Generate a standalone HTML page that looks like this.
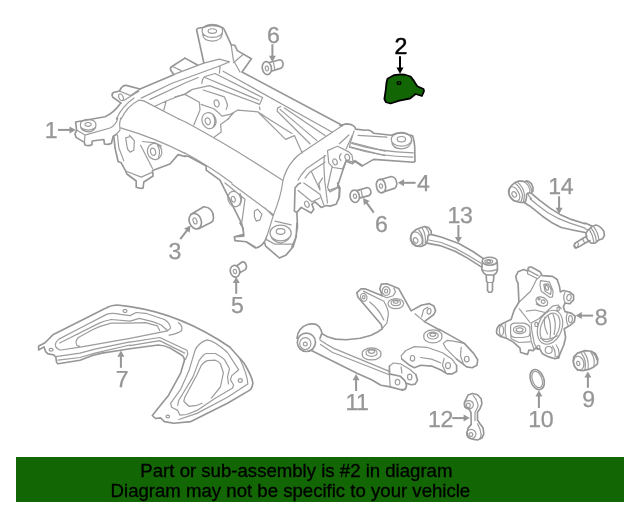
<!DOCTYPE html>
<html lang="en">
<head>
<meta charset="utf-8">
<title>Rear suspension parts diagram</title>
<style>
html,body{margin:0;padding:0;background:#fff;}
body{width:640px;height:512px;overflow:hidden;position:relative;font-family:"Liberation Sans",sans-serif;}
svg{position:absolute;left:0;top:0;display:block;will-change:transform;}
.ln path{fill:none;stroke:#9c9c9c;stroke-width:1.2;stroke-linejoin:round;stroke-linecap:round;}
.ln path.k{stroke:#969696;stroke-width:1.65;}
.lb text{font-family:"Liberation Sans",sans-serif;font-size:23.1px;fill:#969696;letter-spacing:-0.4px;text-rendering:geometricPrecision;stroke:#969696;stroke-width:0.3px;}
.lb text.b{fill:#000;stroke:#000;stroke-width:0.5px;}
.ar line{stroke:#969696;stroke-width:2;}
.ar polygon{fill:#969696;stroke:none;}
.ar line.b{stroke:#000;stroke-width:2;}
.ar polygon.b{fill:#000;}
.banner{position:absolute;left:16px;top:457px;width:608px;height:45px;background:#126604;overflow:hidden;will-change:transform;}
.banner div{position:absolute;width:608px;text-align:center;font-size:18.6px;line-height:20px;color:#000;white-space:nowrap;-webkit-text-stroke:0.3px #000;}
</style>
</head>
<body>
<svg width="640" height="512" viewBox="0 0 640 512" role="img" aria-label="Rear suspension exploded parts diagram">
<g class="ln">
<g id="subframe-top">
<path d="M231.1,44.7L233.4,60.3L240,72M202.2,30.9A10.2,5.9,0,1,0,222.5,30.9A10.2,5.9,0,1,0,202.2,30.9ZM208.1,31.1A4.2,2.3,0,1,0,216.6,31.1A4.2,2.3,0,1,0,208.1,31.1ZM202.5,33.8Q203,40.8 212.3,41.2Q221.7,40.8 222.5,33M242.8,54.8L233.4,62.7M174.1,74.4L203.8,63.1L219.4,59.2L229.5,61.9L220.2,65.8L219.4,73.1M223.1,71.2L331.9,131.9M141.2,98.1L172,83.3L220.2,65.8M150,99.4L185,83L198.3,77.5M205,77.5L258.8,100.2M201.2,104.4L213.8,108.8Q218,112 221.9,116.2L230,114.4L237.5,110.2L258.1,111.9L268.8,119L291.9,133.5M233.8,112.5L228.1,119M215,73.5L262.5,97.5L259.8,104.4L209.4,85.6M259.4,106.9L260,109.6M215,73.5L205,76.5Q201.9,78.8 201.9,83.5M175,96.9L185,94.4Q188.8,91.2 192.5,89.4L209.4,85.6M185,94.4L199.4,102.2L200,110L193.8,125M203.1,90L224.4,96.9Q227.2,102.5 227.5,105.6L226.2,109.4M214.3,104A2.4,3.2,-15,1,0,218.9,102.8A2.4,3.2,-15,1,0,214.3,104ZM202.5,123A6.9,8.1,-20,1,0,215.5,118.3A6.9,8.1,-20,1,0,202.5,123ZM205.4,122.1A2.5,3.4,-20,1,0,210.1,120.4A2.5,3.4,-20,1,0,205.4,122.1ZM212.5,114.4Q216.9,120 213.1,127.5M280.6,106.5L277.5,108.1L277.2,111.2L310,143.8M280,109.4L316.9,140.6M284.4,108.1L325,135.6M258.5,112.5L285.6,139.4L294.4,135.6L302.2,153.1M342.5,125.6L301.2,153.1Q296.9,156.2 294.4,159M391.2,139.5A10.2,6.6,0,1,0,411.6,139.5A10.2,6.6,0,1,0,391.2,139.5ZM397.2,139.2A4.2,2.7,0,1,0,405.6,139.2A4.2,2.7,0,1,0,397.2,139.2ZM391.6,141.1Q392.3,148.9 401.7,148.9Q410.3,148.1 411.9,140.3M358,135.3L386.9,137.2M351.7,143.4Q379.1,152 413.4,152.8M349.4,147.3Q379.1,156.7 412.7,157.2M354.1,130.9L350.2,143.4L349.4,147.3"/>
<path class="k" d="M203.8,62.7L196.7,30.3Q196.4,28.8 198.3,28.3L203.8,27.2Q211.6,23.6 221.7,27.2Q223.8,27.8 224.4,29.8L231.1,44.7M231.1,44.7L234.7,45.2L237.3,50.6L251.4,58.8L242,72M241.9,71.9L342.5,125.6M185,58.1L197.5,65M340,125.5L346.2,123.9Q351.7,123.9 354.8,127L355.6,129.1L365,130.2Q370.5,129.1 373.6,133.3L391.6,135.3Q400.9,130.2 408.8,134.8L412.7,135.9Q414.2,140.3 414.7,146.6L415,161.4L413.4,162.2L373.6,159.4L361.9,166.1L354.8,161.4L352.5,163.8L347,161.4"/>
</g>
<g id="subframe-left">
<path d="M119.4,91L130.6,95.6L140,89M123.8,100.6L138.8,91.2M119.1,98.1A2.1,3.1,-25,1,0,122.9,96.4A2.1,3.1,-25,1,0,119.1,98.1ZM172.5,66.5L181.2,70.6M116.2,119Q122.5,106.2 134,98.1M121.2,119Q126.9,106.2 138.8,100.2L143.8,100.9L178.8,119M155,106.2L166.2,101L163.8,110M166.2,101L185,93.8L190,91.2M76.6,130.1L85,135.1L84.4,142.4M85,135.1L110,128Q116.2,125.1 117.8,118.2M116.2,134.5L120,130.1Q118.8,124.5 120.6,118.2M80.4,124.8A7.8,4.8,0,1,0,95.9,124.8A7.8,4.8,0,1,0,80.4,124.8ZM85,124.4A3.1,1.9,0,1,0,91.2,124.4A3.1,1.9,0,1,0,85,124.4ZM80.4,126.2Q81.2,131.8 88.8,131.8Q95.6,131.1 96,125.5"/>
<path class="k" d="M120,103.9L121.2,103.1L112.8,97.2Q111,94 113.5,92.5L119.4,91L121.5,87.5Q123.8,85 126.2,85.4L140,89L173.8,74.8L170.6,70Q170,67.5 171.9,66.5L185,58.1M75.6,122L105,116.8Q113.8,112.6 120,103.9M75.6,122L76.6,130.1L75,133.9L76,137.4L84.4,142.4L85,145Q88.8,146.5 91.9,144.8L92.2,141L103.8,139.5L104.5,144Q108.1,145.2 111.5,143.2L113.1,136.4L116.2,134.5"/>
</g>
<g id="subframe-frontleft">
<path d="M120.6,127.8Q155,137.8 185,153.4M117.5,135.2L118.8,147.8L123.8,160.9M126.9,171.5L141.2,177.1L152.5,172.1M125.6,137.8L130.6,136.5L134.4,140.9L133.8,150.2L130,152.1L127.5,149ZM129.4,135.2L131.9,137.8M140.6,145.2L152.5,168.4M142.5,141.5L155,142.8L161.2,145.9M147.7,153.3A7.1,8.1,-15,1,0,161.5,149.7A7.1,8.1,-15,1,0,147.7,153.3ZM150.7,152.4A2.5,3.4,-15,1,0,155.5,151.1A2.5,3.4,-15,1,0,150.7,152.4ZM157.5,145.5Q161,150.9 158.5,157.1"/>
<path class="k" d="M113.8,135.9L115,147.8L118.1,161.5L121.2,162.8L125.6,170.9L126.9,174L136.2,181L136.2,187.2L141.2,188.5L143.1,187.9L143.8,182L153.1,176L152.5,170.5L170,164L178.1,154.6L185,156.5"/>
</g>
<g id="subframe-mid">
<path d="M228.1,119L220.6,124.6L221.2,132.1L214.4,137.1M185,153Q210,166.5 231.9,183M225,183L245,199.2L241.9,221.8M231.9,184L273.8,214.9M228.5,201.1A6.2,7.8,-20,1,0,240.2,196.9A6.2,7.8,-20,1,0,228.5,201.1ZM231.5,199.9A1.9,2.5,-20,1,0,235,198.6A1.9,2.5,-20,1,0,231.5,199.9ZM240,193.6Q243.1,199.2 240,204.9M254.4,211.1L257.5,209.2L261.9,214.2L260,219.9L256.2,221.1L254.4,216.8ZM282.5,183Q281.2,195.5 273.1,216.1L265.6,240.5M265,208L273.1,216.1M298.1,190.5L311.9,201.8L320,198M303.8,183L320,194.2L323.8,204.9M318.8,183L320,189.2M325,183L327.5,203M328.1,190.5L337.5,187.4M304.9,205A2.1,3.1,-20,1,0,308.9,203.5A2.1,3.1,-20,1,0,304.9,205ZM270,233A10.6,7.8,0,1,0,291.2,233A10.6,7.8,0,1,0,270,233ZM276.2,231.5A4.4,2.8,0,1,0,285,231.5A4.4,2.8,0,1,0,276.2,231.5ZM270.6,235.5Q272.5,241.8 281.2,243Q290,240.5 291.2,234.2M275,221.1L291.2,224.9M266.2,239.2L275,244.2L291.9,244.2M266.9,235.5L264.4,241.8M266.9,239.9L275,244.2L292.5,244.2M298.1,180L301.2,175L306.2,168.8L325.6,155.6M305,178.1L310,171.9L325,162.2M327.5,150.6L337.5,146.2L348.8,151.9L351.9,155L353.1,161.9L346.2,160.6L342.5,168.8L333.1,167.5L328.8,163.1ZM333,162.6A2.1,3,-20,1,0,337,161.1A2.1,3,-20,1,0,333,162.6ZM345.1,158A2.2,3,-20,1,0,349.4,156.5A2.2,3,-20,1,0,345.1,158ZM341.2,153.8Q337.8,156.9 341,160.6M331.9,167.5L327.5,187.5L330,191.9L338.1,187.5M351.9,142.5L385,151.2M350,146.9L385,155.6M352.5,135L346.2,148.8M348.8,135L339.4,143.8M324.4,155.6L323.8,163.8L324.8,183M311.2,171.2L317.5,184.4L320,190M322.5,178.1L318.8,183.8"/>
<path class="k" d="M185,155.9L188.8,156.5L206.2,165.9L206.2,170.2L220,180.2M220,180.2L241.9,224.2L243.8,234.2L234.4,236.8L235,240.8L246.2,241.8L255,247M300.6,183L298.1,184.2L295,188L294.4,211.1L296.9,212.4L301.2,207.4L311.2,213L313.8,209.2L311.9,204.2L315,201.8L321.2,207.4L326.2,205.5L330,206.1L336.2,204.2L339.4,196.8L340,188L337.5,183M296.9,212.4L297.5,226.8L295.6,238L291.9,247M240,223L243.1,228L243.8,236.1L234.4,236.8L235,240.5L246.2,241.8L255.6,248Q260.6,247.4 264.4,241.8L265.6,246.1L279.4,258L286.2,254.9L293.1,246.8L296.2,236.8L296.9,223M353.1,161.9L355,160.6L362.5,165.6M346.2,160.6L342.5,171.2L337.5,186.2L339.4,189.4L338.8,199"/>
</g>
<g id="small-parts">
<path d="M193.4,221.5A1.8,2.4,-20,1,0,196.6,220.3A1.8,2.4,-20,1,0,193.4,221.5ZM233.4,271.9A1.6,2.1,-15,1,0,236.6,271.1A1.6,2.1,-15,1,0,233.4,271.9ZM379.5,186.3A1.5,2.2,-10,1,0,382.5,185.7A1.5,2.2,-10,1,0,379.5,186.3ZM353.4,196.5A1.6,2.2,-10,1,0,356.6,196A1.6,2.2,-10,1,0,353.4,196.5ZM361.2,190.6L362.5,196.9M265.3,68.7A1.6,2.4,-10,1,0,268.5,68.1A1.6,2.4,-10,1,0,265.3,68.7ZM273.5,62.5L274.8,69.4"/>
<path class="k" d="M189.7,223.1A5.9,7.8,-20,1,0,200.8,219.1A5.9,7.8,-20,1,0,189.7,223.1ZM190.6,214.5L203.8,206.8Q213.1,207.4 213.5,217.4Q213.5,220.5 211.9,222L198.1,229M230.5,272.4A4.6,5.9,-15,1,0,239.5,270.1A4.6,5.9,-15,1,0,230.5,272.4ZM237.5,265.2L242.1,262Q245.6,261.5 246.5,266.5Q246.5,268.6 245.2,269.6L240.2,272.6M376.6,186.8A4.5,6.2,-10,1,0,385.4,185.2A4.5,6.2,-10,1,0,376.6,186.8ZM380,179.8L391.2,176.5Q396.2,176.9 396.9,183.8Q396.5,186.9 395,188.1L382.5,192.2M350.2,197.1A4.6,6.2,-10,1,0,359.3,195.4A4.6,6.2,-10,1,0,350.2,197.1ZM356.9,190.6L367.5,187.5Q370.6,188.1 371,192.5Q370.6,195 368.8,195.6L359.4,198.1M262.4,68.9A4.5,6.5,-10,1,0,271.3,67.3A4.5,6.5,-10,1,0,262.4,68.9ZM269.4,62.5L280,59.8Q283.1,60.6 283.1,64.4Q283.1,66.9 281.2,68.1L271.2,71.2"/>
</g>
<g id="subframe-arch">
<path d="M178.8,119L185,121.8Q232,147 282.5,180.2M294.4,159Q285,169 282.5,183"/>
</g>
<g id="shield">
<path d="M55.8,356.6L80,353.1L95,349.1L130,341.9M130,315.6L120.6,314.4Q111.2,312.5 106.6,314.4L76.9,329.7L58.9,339.1Q54.2,343 55.8,346.9Q58.1,350 61.2,350L81.6,346.9L130,338.3M130,321.1L111.2,319.5Q103.4,321.1 98.8,323.4L59.7,343M130,323.1L111.2,323.1Q100.3,325.8 92.5,329.7L78.4,337.5Q74.5,341.4 76.9,345.3L80,346.6M58.1,360.2L80,357.5L95,353.1L130,345M49.1,349.7A2,1.4,0,1,0,53.1,349.7A2,1.4,0,1,0,49.1,349.7ZM123.1,310.9A1.9,1.6,0,1,0,126.9,310.9A1.9,1.6,0,1,0,123.1,310.9ZM130,315.6L136.2,312.5L145.6,313.3L164.4,319.5Q169.8,322.7 170.6,328.1L167.5,330.9L130,338.3M130,321.1L139.4,318.4L153.4,321.9L161.2,325L167.5,330.5M130,323.1L145.6,322.7L157.3,325.8L159.7,330.5M178.4,322.7Q183.1,325.8 181.6,330.5Q178.4,333.6 169.1,335.2M130,342.2L159.7,337.5L187,350.3L187.8,353.9L185.5,359.4M130,345.6L159.7,340.6L184.7,353.1M239.7,358.6Q247.4,374.8 247.8,384L227.5,397.2L197,413.4L178.8,419.5M188.9,370.8L195,350.5Q198,342.8 207.2,339.9Q215.3,341.3 227.5,352.5L238.7,369.8L231.6,375.9L230.5,379.9L233.6,385L232.6,388L215.3,398.2L197,410.4L186.9,414.5L179.8,415.1L177.7,410.4L171.6,407.3L170.6,403.3L180.8,389.1ZM177.7,405.3L178.8,400.2L193,376.9L199.1,360.6Q203.1,354.5 206.2,353.5L215.3,353.5Q221.4,356.6 224.5,359.6L229.5,368.8L227.5,376.9L228.5,384M202.1,403.3L197,405.3L188.9,406.3L183.8,401.3L184.8,397.2L197,374.8L201.1,365.7Q204.1,361.6 207.2,360.6L215.3,360.2Q219.4,361.6 220.4,363.7L223.4,372.8L220.4,387L211.3,398.2M238.3,380.5A2,1.8,0,1,0,242.3,380.5A2,1.8,0,1,0,238.3,380.5ZM166,416.5A1.8,1.4,0,1,0,169.6,416.5A1.8,1.4,0,1,0,166,416.5Z"/>
<path class="k" d="M130,348.8L117.5,350.8L101.9,353.1L92.5,355.5L80,360.2L58.1,363.8L56.6,362.5L55.8,357L53.4,354.7L48,353.9L45.6,351.6L44.1,346.9L38.6,350L38.6,346.1L44.8,343L53.4,334.4L105,308.6Q111.2,305 117.5,305L130,306.6M130,306.6Q181.6,314.1 230,347.2M130,348.8L158.1,345Q164.4,345 170.6,348.4L182.3,355.5Q185.5,358.6 183.9,362.5M229.9,347.2L243.8,362.7Q251.9,375.9 252.9,383Q251.9,389.1 249.8,390.1L227.5,403.3L190.9,421.6L173.7,423.2L164.5,421.6L160.5,417.9L155.4,418.5L152.3,415.5L160.5,405.3L168.6,395.2L180.8,372.8L184,361.6"/>
</g>
<g id="arm11">
<path d="M299.7,343.6A5.6,5.9,0,1,0,310.9,343.6A5.6,5.9,0,1,0,299.7,343.6ZM303.4,344.1A1.9,1.9,0,1,0,307.2,344.1A1.9,1.9,0,1,0,303.4,344.1ZM319.7,339.8Q327.5,345.3 333.8,348.4L390,371.6M320.5,344.5L332.2,352.3L352.5,360.2L390,375M362.2,353.9A9.4,5.5,0,1,0,380.9,353.9A9.4,5.5,0,1,0,362.2,353.9ZM366.1,352.8A5.5,3.1,0,1,0,377,352.8A5.5,3.1,0,1,0,366.1,352.8ZM368.4,351.6A3.1,1.7,0,1,0,374.7,351.6A3.1,1.7,0,1,0,368.4,351.6ZM363.4,291.1L383.8,301.2Q388.4,309.1 388.4,313.8L386.9,323.1L382.2,328.6M369.7,302Q379.1,309.1 383.8,320M360.7,298.2A3.1,3.9,-15,1,0,366.8,296.5A3.1,3.9,-15,1,0,360.7,298.2ZM362.5,297.3A1.2,1.6,0,1,0,365,297.3A1.2,1.6,0,1,0,362.5,297.3ZM382.2,291.1A3.9,4.4,0,1,0,390,291.1A3.9,4.4,0,1,0,382.2,291.1ZM384.5,291.1A1.6,1.9,0,1,0,387.7,291.1A1.6,1.9,0,1,0,384.5,291.1ZM382.2,295.8L386.9,297.8L393.1,295.8L395.5,291.9L393.9,288M388,303.6A7.8,5,0,1,0,403.6,303.6A7.8,5,0,1,0,388,303.6ZM391.1,302.8A4.7,2.8,0,1,0,400.5,302.8A4.7,2.8,0,1,0,391.1,302.8ZM393.4,302A2.3,1.2,0,1,0,398.1,302A2.3,1.2,0,1,0,393.4,302ZM427.2,310.9A1.9,2.5,10,1,0,430.9,311.6A1.9,2.5,10,1,0,427.2,310.9ZM421.6,316.9L423.6,309.8L427.8,306.9M415,313.8L424.4,321.6M456.6,359.1L445.6,348.1L443.3,343.4L447.2,340.3L453.4,341.1L464.4,343.4M464.4,359.1A2.3,2.8,0,1,0,469.1,359.1A2.3,2.8,0,1,0,464.4,359.1ZM461.2,347.3L460.5,355.9L463.6,364.5M401.9,359.1L401.1,355.9L405.8,350.5L414.4,346.6L426.9,347.3L442.5,352.8L451.9,359.1L456.6,365.3M410.3,358.3A2.2,2.8,0,1,0,414.7,358.3A2.2,2.8,0,1,0,410.3,358.3ZM445.5,365.6A2.5,3.1,0,1,0,450.5,365.6A2.5,3.1,0,1,0,445.5,365.6ZM420.6,357.5L431.6,359.1L440.9,363M444.1,358.3L442.5,365.3L445.6,372.3M389.4,366.1L393.3,363L400.3,363.8L409.7,369.2L415.9,374.7M407.5,377A2.2,2.8,0,1,0,411.9,377A2.2,2.8,0,1,0,407.5,377ZM395.2,382.2A2.3,2.8,0,1,0,399.8,382.2A2.3,2.8,0,1,0,395.2,382.2ZM389.4,373.9L390.2,387.2M401.1,366.9L401.9,373.1M423.8,336.4A9.1,5.9,0,1,0,441.9,336.4A9.1,5.9,0,1,0,423.8,336.4ZM427.3,335.6A5.5,3.4,0,1,0,438.3,335.6A5.5,3.4,0,1,0,427.3,335.6ZM430,334.8A2.8,1.6,0,1,0,435.6,334.8A2.8,1.6,0,1,0,430,334.8Z"/>
<path class="k" d="M297.3,342.3A9.1,9.2,0,1,0,315.5,342.3A9.1,9.2,0,1,0,297.3,342.3ZM297,338.4Q297.5,332.8 300,329.7Q303.3,325.8 307.5,324.5Q311.9,323.4 316.2,324.4Q320.6,326.6 321.9,333.1L320,338.3M322,333.6L327.5,336.7L335.3,339.1L346.2,339.8L360.3,338.3L371.2,335.2L377.5,332L382.2,328.9M382.2,328.6L381.4,324.7L358,297.3L356.9,292.7L361.1,288.8L365,288.8L382.2,295.8L379.8,288.8L381.4,284.1L386.9,283.8L398.6,288.4L411.1,310.9L421.2,305.2L429.1,303.6L433.8,305.9L435.6,310.6L433.8,314.5L424.4,321.6L440,330.2M439.4,329.4L464.4,343.4L473.8,353.6L477.7,359.8L476.9,365.3L472.2,367.7L466.7,366.9L456.6,359.1M456.6,365.3L456.6,371.6L451.9,373.9L447.2,373.9L440.9,370L431.6,366.1L420.6,365.3L414.4,367.7L409.7,365.3L401.9,359.1M415.9,374.7L417.5,380.2L415.2,384.1L411.2,384.8L406.6,383.3M389.4,366.1L389.4,373.9L400.3,376.2L405,380.9L406.6,385.6L405,389.5L400.3,389.5M311.9,350.8L357.5,373.6L371.6,379.8L380.9,385.3L390.3,386.9L402.8,390.3L405.9,388.4"/>
</g>
<g id="arm13">
<path d="M411.9,241.2A5.2,7.2,-28,1,0,421.1,236.3A5.2,7.2,-28,1,0,411.9,241.2ZM413.7,241.4A2.1,2.8,-28,1,0,417.5,239.4A2.1,2.8,-28,1,0,413.7,241.4ZM418.8,230Q424.4,236.2 422.5,245.6M421.9,227.8Q426.2,233.8 425.2,243.1M425,226.5Q429.4,231.2 428.8,235.2M428.8,240L441.2,242.5L455,248.1L467.5,255L480.6,263.1M484.8,261.5A4,1.9,0,1,0,492.8,261.5A4,1.9,0,1,0,484.8,261.5ZM486.9,261.5A1.9,0.9,0,1,0,490.6,261.5A1.9,0.9,0,1,0,486.9,261.5ZM482.2,269.8Q487.5,272.8 497.5,269.4M487.5,282.5L492.5,282.5"/>
<path class="k" d="M410.6,237.5L411.9,233.1L416.2,229.4L421.2,227.5L425,226.5L428.8,227.8L431.2,231.2L431.2,234.4L428.1,235.6L427.5,240.6L425.6,244.4L421.2,246.5L416.2,246.2L412.5,243.8L410.6,240ZM431.2,234.4L442.5,237.5L458.8,243.5L472.5,251.2L483.1,258.5M426.9,243.1L440,245.6L455,251.2L467.5,258.1L481.2,266.9M482.2,261.2A7.5,4,0,1,0,497.2,261.2A7.5,4,0,1,0,482.2,261.2ZM482.2,261.9L481.9,270L483.8,273.1L486.2,275L493.8,275L496.2,273.1L497.5,270L497.2,261.2M486.2,275L486.5,281.2L487.5,282.5L487.5,290.6L488.8,292.2L491.2,292.2L492.5,290.6L492.5,282.5L493.5,281.2L493.8,275"/>
</g>
<g id="arm14">
<path d="M510,196.3A4.7,6.9,-28,1,0,518.2,191.9A4.7,6.9,-28,1,0,510,196.3ZM512.4,195.4A2.1,2.9,-28,1,0,516.1,193.4A2.1,2.9,-28,1,0,512.4,195.4ZM515,183Q521.4,188.3 522.5,195Q522.5,198.8 521,201.6M517.3,181.9Q523.6,187.5 524.4,194.3Q524.4,198.8 523.3,202.1M524.8,181.9Q528.9,185.3 530,189.8L529.6,192.8M526.3,181.1Q531.1,185.3 531.9,191.6M528.1,194.3Q529.3,197.3 531.5,198.8M530,198.8L537.5,205L547.5,212.5L557.5,218.1L570,223.1L585,228.1M585,228.8L587.5,229.8M593.8,226.9Q598.1,232.5 598.8,239.4M591.2,228.1Q595.6,233.8 596.2,240.6M589.4,229.4Q593.1,235.6 593.8,241.9M574.6,244.7A1.8,2.4,20,1,0,577.9,245.8A1.8,2.4,20,1,0,574.6,244.7ZM582.5,238.8L584.4,242.5"/>
<path class="k" d="M509,192L509.4,189L511.3,185.6L515,182.6L518.8,181.1L522.5,181.1L524.8,181.9L526.3,180.9L528.9,181.5L531.5,183.8L533,187.5L533,190.9L531.5,192.8L527.8,193.1L526.6,194.6L526.3,198.8L525.5,201.4L523.3,202.5L520.3,202.4L517.3,201.8L513.5,200.3L510.5,197.3L509,194.3ZM531.9,193.8L540,200.6L550,208.1L560,214.4L571.2,219.4L585,223.8M524.4,202.8L530,206.2L542.5,216.2L552.5,223.1L561.2,227.5L572.5,230L585,232.5M585,223.1L592.5,226.2M585,232.5L586.2,233.1M592.5,226.2L596.2,225Q600.6,226.2 603.8,231.2L604.4,235.6L602.5,238.8L598.8,240L595,243.1L591.2,243.1L588.1,240.6L586.2,236.9L586,233.1L588.1,230ZM586.9,236.2L584.4,237.5L575,243.1L574,245.6L576.2,247.8L578.8,246.9L586.2,242.5L590,240.6"/>
</g>
<g id="knuckle">
<path d="M536.9,278.8L530.6,291.2L518.9,302.2M568.6,319.1A1.9,2.8,0,1,0,572.3,319.1A1.9,2.8,0,1,0,568.6,319.1ZM567.3,313.1Q565,319.4 568.1,325.6M499.4,330.6A2.1,5,0,1,0,503.6,330.6A2.1,5,0,1,0,499.4,330.6ZM505.6,323.8Q504.4,330 506.2,336.9M510.6,326.2Q511.2,323.1 515,323.1L523.8,323.1Q528.1,323.8 529.8,326.9L530,331.2Q530,335.6 528.1,336.5L522.5,337.5L515,337.5Q511.2,336.9 510.6,333.8ZM513.4,329.8A6.2,3.8,0,1,0,525.9,329.8A6.2,3.8,0,1,0,513.4,329.8ZM516.1,329.8A3.5,2,0,1,0,523.1,329.8A3.5,2,0,1,0,516.1,329.8ZM510.6,333.8L511.2,338.8L518.8,342.5L530,341.9M530,331.2L531.2,341.2L533.8,348.8M519.4,308.8L530,322.5M526.2,311.2L535,310L545,312.5M531.2,323.1L538.8,318.8L552.5,306.2L558.1,305L561.2,308.8M531.2,323.1L531.9,331.2L534.4,343.8L537.5,349.4M534.8,324.4A1.5,2.1,0,1,0,537.8,324.4A1.5,2.1,0,1,0,534.8,324.4ZM556.9,309A1.2,1.8,0,1,0,559.4,309A1.2,1.8,0,1,0,556.9,309ZM537,347.2A1.5,1.9,0,1,0,540,347.2A1.5,1.9,0,1,0,537,347.2ZM538.8,323.2A11.9,17.5,20,1,0,561.2,331.3A11.9,17.5,20,1,0,538.8,323.2ZM541.5,324.4A9,14.8,20,1,0,558.5,330.6A9,14.8,20,1,0,541.5,324.4ZM545.2,350A3.5,3.5,0,1,0,552.2,350A3.5,3.5,0,1,0,545.2,350ZM552.5,346.2Q556.2,351.2 555,356.9M556.2,345Q560,350 558.8,356.2M556.8,357.2A1.1,1.1,0,1,0,559,357.2A1.1,1.1,0,1,0,556.8,357.2Z"/>
<path class="k" d="M515.8,276.4L518.1,271.7L523.6,269.4L527.5,270.9L529.1,267L531.4,267L540,271.7L542.3,275.6L552.5,276.4L557.2,279.5L559.5,286.6L560.3,292L563.4,290.5L569.7,292L573.6,295.2L573.6,299.8L569.7,303.8L565,303L563.4,306.9L565,311.6L571.2,313.1L575.2,316.2L574.4,321.7L569.7,325.6L564.2,328.8M515.8,276.4L516.6,280.3L518.1,283.4L518.9,302.2L514.2,310L511.1,319.4M511,319.4L503.8,323.1L498.8,325.6Q495.6,329.4 496.9,333.8L500.6,336.5L506.2,338.1L513.1,341.9L520,348.1L520.6,352.5L527.5,354.4L529,350L533.1,350.6L535.6,348.1L540,349.4L542.5,353.8L548.8,356.9L555,358.8L558.8,357.5L560,353.8L563.8,345L565.6,337.5L564.4,330"/>
</g>
<g id="knuckle-top">
<path d="M528.1,267.5L527.5,273.8L537.5,278.8L541.2,275M528.8,270.6L538.1,275.6M540.6,280.6L549.4,281.9L553.1,291.2L552.5,296.9L550,297.5L541.2,291.2L540,285ZM543.8,284.4L548.1,283.8L551.2,289.4L550.6,294.4L545,291.2ZM545.6,288.2A1.4,2.1,-20,1,0,548.2,287.3A1.4,2.1,-20,1,0,545.6,288.2ZM536.2,298.9A6.2,4.2,25,1,0,547.5,304.1A6.2,4.2,25,1,0,536.2,298.9ZM541.4,301A1.9,1.4,20,1,0,544.9,302.3A1.9,1.4,20,1,0,541.4,301ZM538,299A1,0.9,0,1,0,540,299A1,0.9,0,1,0,538,299ZM536.2,304Q541.2,307.8 547.2,305.2M566.9,297A2.1,3.1,15,1,0,571.1,298A2.1,3.1,15,1,0,566.9,297ZM565,292.5Q562.5,297.5 565,302.5"/>
</g>
<g id="knuckle-hub">
<path d="M545,317Q542.8,324.5 547.5,333.9M548.1,315.8Q551.9,325.8 550,338.2M553.1,314.5Q556.9,323.2 554,334.5M540.6,338.2Q547.5,341.4 557.5,335.8"/>
</g>
<g id="ring10">
<path d="M532.8,381.1A4.7,7.8,-20,1,0,541.6,377.9A4.7,7.8,-20,1,0,532.8,381.1Z"/>
<path class="k" d="M531,381.8A6.6,10,-20,1,0,543.4,377.3A6.6,10,-20,1,0,531,381.8Z"/>
</g>
<g id="bush9">
<path d="M573.9,364.4A5,6.9,-15,1,0,583.6,361.8A5,6.9,-15,1,0,573.9,364.4ZM576.8,363.8A1.5,2.2,-15,1,0,579.7,363A1.5,2.2,-15,1,0,576.8,363.8ZM581.2,353.1Q586.9,360 585,370M583.8,351.9Q589.4,359.4 588.1,369.4M590.6,351.9Q595.6,358.8 593.8,366.2M592.5,352.5Q596.2,355.6 596.9,360"/>
<path class="k" d="M573.8,356.9L577.5,353.1L585,350.6L591.2,351.2L595.6,353.8L597.8,358.8L597.5,363.8L593.8,366.9L588.8,369.4L582.5,370.6L577.5,370L574.4,366.2L573.1,361.2Z"/>
</g>
<g id="link12">
<path d="M464.1,404.8A4.6,4.2,0,1,0,473.4,404.8A4.6,4.2,0,1,0,464.1,404.8ZM466.5,405.4A1.9,1.8,0,1,0,470.2,405.4A1.9,1.8,0,1,0,466.5,405.4ZM466.6,434A4.6,4.6,0,1,0,475.9,434A4.6,4.6,0,1,0,466.6,434ZM469,434.5A1.9,1.9,0,1,0,472.8,434.5A1.9,1.9,0,1,0,469,434.5ZM473.1,395.6Q477.5,400 478.1,406.2L475.6,411.2M475,411.9L475,420.6M477.5,423.8Q480.6,428.8 481.2,435L480,438.8"/>
<path class="k" d="M466.2,398.8L468.1,395L472.5,393.5L477.5,394.8L481.2,398.8L481.9,403.8L480,408.8L477.5,411.9L477.5,420L480,423.8L483.1,428.1L483.8,433.8L481.9,438.1L477.5,440L473.8,439.4L471.2,438.8L468.1,436.9L466.9,433.1L468.1,428.1L471.2,424.4L471,412.5L468.8,408.8L465,406.9L464.4,402.5Z"/>
</g>
</g>
<path d="M387.5,78.75 L393.75,75.25 L400.6,74.4 L405,74.75 L410.6,76.5 L413.75,80.6 L417.25,86.25 L423.5,89 L424,91.25 L421.9,96 L415.6,94 L410,98.5 L399.4,100.6 L390.6,103.5 L386,102.25 L384.4,99 L385.6,91.25 L386.5,82.5 Z" fill="#126604" stroke="#000" stroke-width="1.8" stroke-linejoin="round"/>
<ellipse cx="399" cy="83.1" rx="2" ry="1.4" fill="none" stroke="#000" stroke-width="1.3"/>
<g class="ar"><line x1="58.0" y1="129.9" x2="70.0" y2="129.9"/><polygon points="75.8,129.9 69.5,133.4 69.5,129.9 69.5,126.4"/><line x1="272.4" y1="44.2" x2="272.4" y2="56.2"/><polygon points="272.4,61.9 268.9,55.7 272.4,55.7 275.9,55.7"/><line class="b" x1="400.0" y1="56.2" x2="400.0" y2="68.0"/><polygon class="b" points="400.0,73.8 396.5,67.5 400.0,67.5 403.5,67.5"/><line x1="415.6" y1="182.8" x2="403.5" y2="182.8"/><polygon points="397.8,182.8 404.0,179.3 404.0,182.8 404.0,186.3"/><line x1="373.8" y1="212.7" x2="366.5" y2="202.7"/><polygon points="363.1,198.1 369.6,201.0 366.8,203.1 363.9,205.2"/><line x1="180.3" y1="239.2" x2="187.2" y2="230.1"/><polygon points="190.6,225.6 189.6,232.7 186.9,230.5 184.1,228.4"/><line x1="236.2" y1="293.8" x2="236.2" y2="282.6"/><polygon points="236.2,276.9 239.8,283.1 236.2,283.1 232.8,283.1"/><line x1="120.9" y1="367.8" x2="120.9" y2="356.2"/><polygon points="120.9,350.5 124.4,356.7 120.9,356.7 117.4,356.7"/><line x1="458.4" y1="225.0" x2="458.4" y2="237.4"/><polygon points="458.4,243.1 454.9,236.9 458.4,236.9 461.9,236.9"/><line x1="559.1" y1="196.2" x2="559.1" y2="208.2"/><polygon points="559.1,213.9 555.6,207.7 559.1,207.7 562.6,207.7"/><line x1="593.1" y1="315.6" x2="581.3" y2="315.6"/><polygon points="575.6,315.6 581.8,312.1 581.8,315.6 581.8,319.1"/><line x1="587.9" y1="387.8" x2="587.9" y2="377.1"/><polygon points="587.9,371.4 591.4,377.6 587.9,377.6 584.4,377.6"/><line x1="538.9" y1="408.0" x2="538.9" y2="396.0"/><polygon points="538.9,390.3 542.4,396.5 538.9,396.5 535.4,396.5"/><line x1="356.1" y1="391.0" x2="356.1" y2="379.7"/><polygon points="356.1,374.0 359.6,380.2 356.1,380.2 352.6,380.2"/><line x1="452.3" y1="418.1" x2="464.1" y2="418.1"/><polygon points="469.8,418.1 463.6,421.6 463.6,418.1 463.6,414.6"/></g>
<g class="lb"><text x="44.7" y="138.1">1</text><text x="266.9" y="42.5">6</text><text x="394.6" y="54.1" class="b">2</text><text x="417.1" y="191.0">4</text><text x="375.0" y="232.4">6</text><text x="168.4" y="258.6">3</text><text x="230.9" y="313.1">5</text><text x="115.7" y="387.0">7</text><text x="447.5" y="222.7">13</text><text x="548.3" y="194.4">14</text><text x="594.8" y="324.5">8</text><text x="582.3" y="407.1">9</text><text x="528.3" y="426.9">10</text><text x="345.4" y="410.1">11</text><text x="428.1" y="426.5">12</text></g>
</svg>
<div class="banner">
<div style="top:4px;left:-23.6px">Part or sub-assembly is #2 in diagram</div>
<div style="top:24px;left:-29.6px">Diagram may not be specific to your vehicle</div>
</div>
</body>
</html>
